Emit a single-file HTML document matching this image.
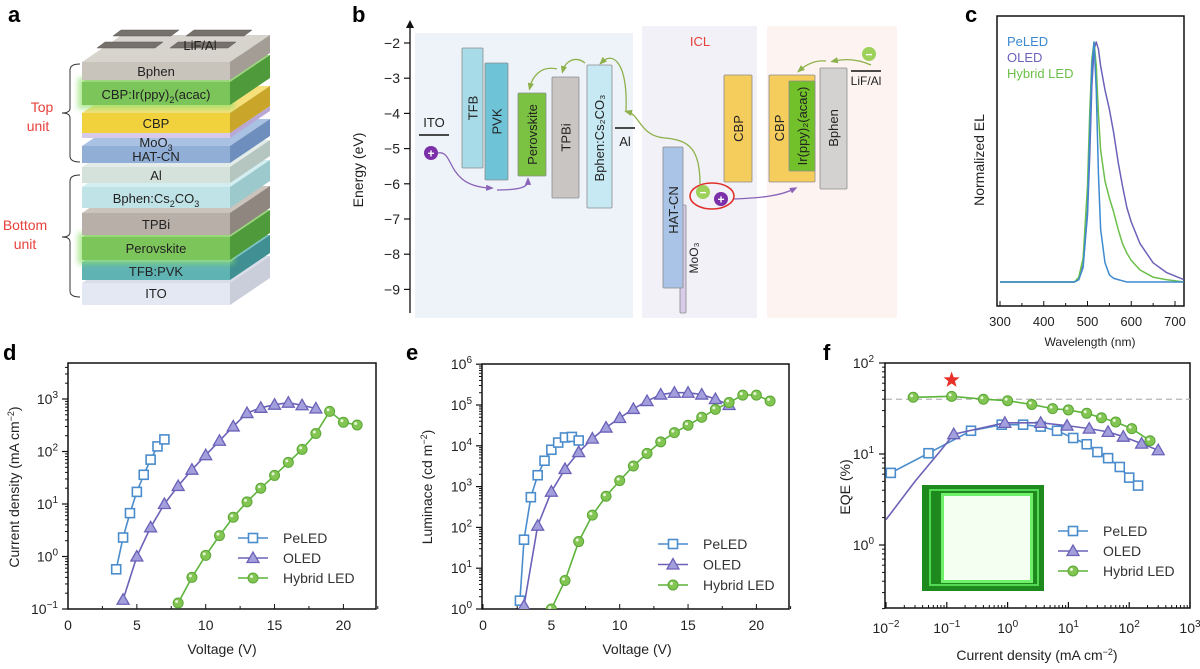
<!DOCTYPE html>
<html><head><meta charset="utf-8">
<style>
html,body{margin:0;padding:0;background:#fff;}
svg{display:block;font-family:"Liberation Sans",Arial,sans-serif;}
</style></head>
<body>
<svg id="fig" width="1200" height="669" viewBox="0 0 1200 669" xmlns="http://www.w3.org/2000/svg">
<defs>
<filter id="glow" x="-20%" y="-60%" width="140%" height="220%"><feGaussianBlur stdDeviation="3"/></filter>
<marker id="ag" viewBox="0 0 10 10" refX="5" refY="5" markerWidth="6" markerHeight="6" orient="auto"><path d="M0,1 L10,5 L0,9 z" fill="#8db04a"/></marker>
<marker id="ap" viewBox="0 0 10 10" refX="5" refY="5" markerWidth="6" markerHeight="6" orient="auto"><path d="M0,1 L10,5 L0,9 z" fill="#8a62b8"/></marker>
<clipPath id="clipD"><rect x="68" y="363" width="308" height="246"/></clipPath>
<clipPath id="clipE"><rect x="482" y="364" width="307" height="245"/></clipPath>
<clipPath id="clipF"><rect x="885" y="363" width="305" height="245"/></clipPath>
<clipPath id="clipC"><rect x="997" y="16" width="187" height="290"/></clipPath>
</defs>

<g>
<text x="8" y="22" font-size="22" font-weight="bold">a</text>
<g id="stack"></g>
<text x="42" y="112" font-size="14" fill="#e8403a" text-anchor="middle">Top</text>
<text x="38" y="131" font-size="14" fill="#e8403a" text-anchor="middle">unit</text>
<text x="25" y="230" font-size="14" fill="#e8403a" text-anchor="middle">Bottom</text>
<text x="25" y="249" font-size="14" fill="#e8403a" text-anchor="middle">unit</text>
<path d="M80,64 Q70,64 70,70 L70,108 Q70,113 62,113 Q70,113 70,118 L70,156 Q70,162 80,162" fill="none" stroke="#333" stroke-width="1"/>
<path d="M80,175 Q70,175 70,181 L70,232 Q70,237 62,237 Q70,237 70,242 L70,291 Q70,297 80,297" fill="none" stroke="#333" stroke-width="1"/>
</g>

<g>
<text x="352" y="22" font-size="22" font-weight="bold">b</text>
<rect x="415" y="33" width="218" height="285" fill="#eef3f9"/>
<rect x="642" y="26" width="115" height="292" fill="#f1f1f7"/>
<rect x="767" y="26" width="130" height="292" fill="#fdf4f2"/>
<text x="700" y="46" font-size="13" fill="#e8403a" text-anchor="middle">ICL</text>
<g id="energyAxis"></g>
<g id="bands"></g>
</g>

<g>
<text x="965" y="22" font-size="22" font-weight="bold">c</text>
<g id="plotC"></g>
</g>

<g>
<text x="3" y="360" font-size="22" font-weight="bold">d</text>
<g id="plotD"></g>
</g>
<g>
<text x="406" y="360" font-size="22" font-weight="bold">e</text>
<g id="plotE"></g>
</g>
<g>
<text x="823" y="360" font-size="22" font-weight="bold">f</text>
<g id="plotF"></g>
</g>
</svg>

<script>
// ---------- Panel c data (normalized EL) ----------
const cWave = [300,400,470,480,490,500,505,510,515,520,525,530,540,550,560,570,580,590,600,620,650,680,720];
const cPe   = [0,0,0,0.01,0.06,0.3,0.6,0.9,1.0,0.8,0.45,0.22,0.08,0.03,0.015,0.01,0.005,0,0,0,0,0,0];
const cOled = [0,0,0,0.01,0.07,0.28,0.52,0.82,0.97,1.0,0.97,0.9,0.8,0.72,0.62,0.5,0.4,0.31,0.25,0.16,0.08,0.04,0.01];
const cHyb  = [0,0,0,0.02,0.1,0.4,0.7,0.93,1.0,0.9,0.7,0.55,0.42,0.35,0.29,0.22,0.16,0.12,0.09,0.05,0.02,0.01,0];
const cTicks = [300,400,500,600,700];

// ---------- Panel d data (J-V) ----------
const dPeV = [3.5,4,4.5,5,5.5,6,6.5,7];
const dPeJ = [0.57,2.3,6.7,17,36,70,125,170];
const dOlV = [4,5,6,7,8,9,10,11,12,13,14,15,16,17,18];
const dOlJ = [0.15,1.0,3.6,10,22,45,85,160,300,540,680,780,850,760,660];
const dHyV = [8,9,10,11,12,13,14,15,16,17,18,19,20,21];
const dHyJ = [0.13,0.4,1.05,2.5,5.6,11,20,35,62,110,220,580,360,320];
const dXTicks = [0,5,10,15,20];
const dYExp = [-1,0,1,2,3];

// ---------- Panel e data (L-V) ----------
const ePeV = [2.7,3,3.5,4,4.5,5,5.5,6,6.5,7];
const ePeL = [1.6,50,550,1900,4300,8000,12000,16000,16500,13500];
const eOlV = [3,4,5,6,7,8,9,10,11,12,13,14,15,16,17,18];
const eOlL = [1.2,110,750,2700,7000,15000,28000,48000,80000,125000,180000,200000,200000,180000,140000,100000];
const eHyV = [5,6,7,8,9,10,11,12,13,14,15,16,17,18,19,20,21];
const eHyL = [1,5,45,200,580,1400,3200,6500,12500,21000,32000,50000,78000,115000,175000,175000,125000];
const eXTicks = [0,5,10,15,20];
const eYExp = [0,1,2,3,4,5,6];

// ---------- Panel f data (EQE-J) ----------
const fPeJ = [0.012,0.05,0.25,0.8,1.8,3.5,6.5,12,20,30,45,70,100,140];
const fPeE = [6.2,10.2,18,21,21,20,18,15,12.8,10.5,9,7.2,5.5,4.5];
const fOlLineJ = [0.01,0.03,0.08];
const fOlLineE = [1.9,5,11];
const fOlJ = [0.13,0.9,3.5,9.5,22,45,80,160,300];
const fOlE = [16.5,22,22,20.5,19,17.5,15.5,13,11];
const fHyJ = [0.028,0.12,0.4,1,2.5,5.5,10,20,35,60,110,220];
const fHyE = [42,43,40,38.5,35,31.5,30.5,28,25,22.5,19,14];
const fRef = 40;
const fStar = [0.12,65];
const fXExp = [-2,-1,0,1,2,3];
const fYExp = [0,1,2];

// ---------- Panel b axis ----------
const bLevelsE = [-2,-3,-4,-5,-6,-7,-8,-9];

const NS = "http://www.w3.org/2000/svg";
function mk(tag, attrs, parent){
  const e = document.createElementNS(NS, tag);
  for (const k in attrs) e.setAttribute(k, attrs[k]);
  parent.appendChild(e);
  return e;
}
function txt(parent, x, y, s, size, opts){
  const o = Object.assign({x:x, y:y, 'font-size':size, fill:'#222'}, opts||{});
  const t = mk('text', o, parent);
  t.textContent = s;
  return t;
}
function powLabel(parent, x, y, exp, anchor){
  const t = mk('text', {x:x, y:y, 'font-size':14, fill:'#222', 'text-anchor':anchor}, parent);
  const a = mk('tspan', {}, t); a.textContent = '10';
  const b = mk('tspan', {dy:-6, 'font-size':10}, t); b.textContent = (exp<0?'\u2212':'') + Math.abs(exp);
  return t;
}

const C_BLUE='#4a8ccc', C_PUR='#6b62b8', C_GRN='#5db43a';

function drawSeries(g, xs, ys, xf, yf, color, marker, name, clip, lineOnlyX, lineOnlyY){
  let pts = [];
  if (lineOnlyX) for (let i=0;i<lineOnlyX.length;i++) pts.push(xf(lineOnlyX[i])+','+yf(lineOnlyY[i]));
  for (let i=0;i<xs.length;i++) pts.push(xf(xs[i])+','+yf(ys[i]));
  const grp = mk('g', {'clip-path':'url(#'+clip+')'}, g);
  
  
  const pl = mk('polyline', {points:pts.join(' '), fill:'none', stroke:color, 'stroke-width':1.6}, grp);
  
  
  for (let i=0;i<xs.length;i++){
    const x = xf(xs[i]), y = yf(ys[i]);
    const m = drawMarker(grp, x, y, marker);
    
    
  }
}
function drawMarker(g, x, y, marker){
  if (marker==='sq') return mk('rect', {x:x-4.5, y:y-4.5, width:9, height:9, fill:'#fff', stroke:C_BLUE, 'stroke-width':1.6}, g);
  if (marker==='tri') return mk('polygon', {points:(x)+','+(y-6)+' '+(x-6)+','+(y+4.5)+' '+(x+6)+','+(y+4.5), fill:'#a39fdc', stroke:C_PUR, 'stroke-width':1.3}, g);
  const c = mk('g', {}, g);
  mk('circle', {cx:x, cy:y, r:5, fill:'#82c552', stroke:'#5aa636', 'stroke-width':1}, c);
  mk('circle', {cx:x-1.5, cy:y-1.5, r:1.5, fill:'#e6f5d8'}, c);
  return c;
}
function legend(g, x, y0, dy){
  const items = [['PeLED',C_BLUE,'sq'],['OLED',C_PUR,'tri'],['Hybrid LED',C_GRN,'ci']];
  items.forEach((it,i)=>{
    const y = y0 + i*dy;
    const lg = mk('g', {}, g);
    
    
    mk('line', {x1:x, y1:y, x2:x+30, y2:y, stroke:it[1], 'stroke-width':1.6}, lg);
    drawMarker(lg, x+15, y, it[2]);
    txt(lg, x+45, y+5, it[0], 14, {fill:'#333'});
  });
}
function box(g, x0, y0, x1, y1, name){
  const r = mk('rect', {x:x0, y:y0, width:x1-x0, height:y1-y0, fill:'none', stroke:'#111', 'stroke-width':1.5}, g);
  
  
}
function logMinor(g, yf, e0, e1, x0, len, ytop){
  for (let e=e0; e<e1; e++) for (let k=2;k<=9;k++){
    const y = yf(k*Math.pow(10,e));
    if (y < ytop) continue;
    mk('line', {x1:x0, y1:y, x2:x0-len, y2:y, stroke:'#111', 'stroke-width':1}, g);
  }
}

// ================= Panel a =================
(function(){
  const g = document.getElementById('stack');
  const X0=82, X1=230, DX=40, DY=27;
  const layers = [
    ['ITO',283,305,'#e4e8f2','#c9ceda','#d8dde9','ITO',298],
    ['TFB:PVK',262,280,'#5fb3b3','#3f8f93','#7cc4c4','TFB:PVK',276],
    ['Perovskite',237,260,'#7cc55a','#4f9a3a','#9bd77d','Perovskite',253],
    ['TPBi',213,235,'#b8afa8','#8f8680','#cbc4bd','TPBi',229],
    ['Bphen:Cs2CO3',187,208,'#bfe3e6','#9cc9cc','#d3eef0',null,203],
    ['Al',167,183,'#d5e2dc','#b5c5bf','#e3ece8','Al',180],
    ['HAT-CN',146,163,'#90aed6','#6e8fbd','#a9c1e3','HAT-CN',161],
    ['MoO3',133,138,'#d6c9ea','#b9a8d6','#e2d8f0',null,0],
    ['CBP',113,133,'#f1d23c','#c9a62a','#f6e07a','CBP',128],
    ['CBP:Ir(ppy)2(acac)',82,105,'#7cc55a','#4f9a3a','#9bd77d',null,99],
    ['Bphen',62,80,'#c8c3bb','#a39d96','#d7d3cd','Bphen',76]
  ];
  layers.forEach(L=>{
    const lg = mk('g', {}, g);
    
    
    const t=L[1], b=L[2];
    if (L[3]==='#7cc55a') mk('rect', {x:X0-4, y:t-4, width:X1-X0+8, height:b-t+8, fill:'#8ee06a', opacity:0.7, filter:'url(#glow)'}, lg);
    mk('polygon', {points:`${X0},${t} ${X0+DX},${t-DY} ${X1+DX},${t-DY} ${X1},${t}`, fill:L[5]}, lg);
    mk('polygon', {points:`${X1},${t} ${X1+DX},${t-DY} ${X1+DX},${b-DY} ${X1},${b}`, fill:L[4]}, lg);
    mk('rect', {x:X0, y:t, width:X1-X0, height:b-t, fill:L[3]}, lg);
    if (L[6]) txt(lg, 156, L[7], L[6], 13, {'text-anchor':'middle', fill:'#222'});
  });
  let t = mk('text',{x:156,y:99,'font-size':13,fill:'#222','text-anchor':'middle'},g);
  let s1=mk('tspan',{},t); s1.textContent='CBP:Ir(ppy)';
  let s2=mk('tspan',{dy:4,'font-size':9},t); s2.textContent='2';
  let s3=mk('tspan',{dy:-4},t); s3.textContent='(acac)';
   
  t = mk('text',{x:156,y:203,'font-size':13,fill:'#222','text-anchor':'middle'},g);
  s1=mk('tspan',{},t); s1.textContent='Bphen:Cs';
  s2=mk('tspan',{dy:4,'font-size':9},t); s2.textContent='2';
  s3=mk('tspan',{dy:-4},t); s3.textContent='CO';
  let s4=mk('tspan',{dy:4,'font-size':9},t); s4.textContent='3';
   
  t = mk('text',{x:156,y:147,'font-size':13,fill:'#222','text-anchor':'middle'},g);
  s1=mk('tspan',{},t); s1.textContent='MoO';
  s2=mk('tspan',{dy:4,'font-size':9},t); s2.textContent='3';
   
  const el = [[97,48],[170,48],[113,36],[186,36]];
  el.forEach((p,i)=>{
    const e = mk('polygon', {points:`${p[0]},${p[1]} ${p[0]+8},${p[1]-6} ${p[0]+74-8},${p[1]-6} ${p[0]+58},${p[1]}`, fill:'#77716c', stroke:'#5e5954','stroke-width':0.5}, g);
     
  });
  t = txt(g, 200, 50, 'LiF/Al', 13, {'text-anchor':'middle'});
   
})();

// ================= Panel b =================
(function(){
  const g = document.getElementById('energyAxis');
  const yE = v => 43 + (-2 - v)*35.2;
  mk('line',{x1:410,y1:313,x2:410,y2:26,stroke:'#111','stroke-width':1.3},g);
  mk('path',{d:'M406,28 L410,20 L414,28 z',fill:'#111'},g);
  bLevelsE.forEach(v=>{
    const y=yE(v);
    mk('line',{x1:410,y1:y,x2:404,y2:y,stroke:'#111','stroke-width':1.2},g);
    const t = txt(g, 400, y+5, '\u2212'+Math.abs(v), 14, {'text-anchor':'end'});
     
  });
  const yl = txt(g, 0, 0, 'Energy (eV)', 14, {'text-anchor':'middle', transform:'translate(363,170) rotate(-90)'});
   

  const b = document.getElementById('bands');
  const bars = [
    ['TFB',462,483,48,168,'#a8dbe8','TFB'],
    ['PVK',485,508,63,180,'#6ec3d6','PVK'],
    ['Perovskite',518,546,93,176,'#7cc242','Perovskite'],
    ['TPBi',552,579,77,198,'#c9c5c2','TPBi'],
    ['Bphen-Cs2CO3',587,612,65,208,'#c7e9f3',null],
    ['MoO3',680,686,205,313,'#d8cce8',null],
    ['HAT-CN',663,683,147,288,'#a9c4e6','HAT-CN'],
    ['CBP-icl',724,752,75,182,'#f5cd5c','CBP'],
    ['CBP-top',769,815,75,182,'#f5cd5c',null],
    ['Ir-ppy',789,815,81,171,'#72c12a',null],
    ['Bphen-top',820,847,68,189,'#d4d2d0',null]
  ];
  bars.forEach(B=>{
    const r = mk('rect',{x:B[1],y:B[3],width:B[2]-B[1],height:B[4]-B[3],fill:B[5],stroke:'#8c8c8c','stroke-width':0.8,rx:1},b);
    
    
    if (B[6]){
      const cx=(B[1]+B[2])/2, cy=B[0]==='HAT-CN'?210:(B[3]+B[4])/2;
      txt(b,0,0,B[6],13,{'text-anchor':'middle',transform:`translate(${cx+5},${cy}) rotate(-90)`});
    }
  });
  txt(b,0,0,'Bphen:Cs\u2082CO\u2083',13,{'text-anchor':'middle',transform:'translate(604,138) rotate(-90)'});
  txt(b,0,0,'CBP',13,{'text-anchor':'middle',transform:'translate(784,128) rotate(-90)'});
  txt(b,0,0,'Ir(ppy)\u2082(acac)',13,{'text-anchor':'middle',transform:'translate(807,126) rotate(-90)'});
  txt(b,0,0,'Bphen',13,{'text-anchor':'middle',transform:'translate(838,128) rotate(-90)'});
  txt(b,0,0,'MoO\u2083',12,{'text-anchor':'middle',transform:'translate(698,258) rotate(-90)'});
  mk('line',{x1:419,y1:135,x2:449,y2:135,stroke:'#111','stroke-width':1.5},b);
  txt(b,434,127,'ITO',13,{'text-anchor':'middle'});
  mk('line',{x1:615,y1:128,x2:635,y2:128,stroke:'#111','stroke-width':1.5},b);
  txt(b,625,146,'Al',13,{'text-anchor':'middle'});
  mk('line',{x1:851,y1:71,x2:881,y2:71,stroke:'#111','stroke-width':1.5},b);
  txt(b,866,85,'LiF/Al',12,{'text-anchor':'middle'});
  mk('path',{d:'M438,153 C455,150 445,186 490,188',fill:'none',stroke:'#8a62b8','stroke-width':1.3,'marker-end':'url(#ap)'},b);
  mk('path',{d:'M497,190 C520,190 528,187 528,181',fill:'none',stroke:'#8a62b8','stroke-width':1.3,'marker-end':'url(#ap)'},b);
  mk('path',{d:'M734,199 C760,198 780,196 794,189',fill:'none',stroke:'#8a62b8','stroke-width':1.3,'marker-end':'url(#ap)'},b);
  mk('path',{d:'M700,184 C700,150 690,140 665,138 C640,136 640,115 628,112',fill:'none',stroke:'#8db04a','stroke-width':1.3,'marker-end':'url(#ag)'},b);
  mk('path',{d:'M626,112 C628,60 612,52 602,62',fill:'none',stroke:'#8db04a','stroke-width':1.3,'marker-end':'url(#ag)'},b);
  mk('path',{d:'M585,63 C575,55 565,62 563,70',fill:'none',stroke:'#8db04a','stroke-width':1.3,'marker-end':'url(#ag)'},b);
  mk('path',{d:'M557,69 C540,65 532,78 530,87',fill:'none',stroke:'#8db04a','stroke-width':1.3,'marker-end':'url(#ag)'},b);
  mk('path',{d:'M871,65 C860,60 848,58 834,61',fill:'none',stroke:'#8db04a','stroke-width':1.3,'marker-end':'url(#ag)'},b);
  mk('path',{d:'M826,61 C815,60 807,64 800,70',fill:'none',stroke:'#8db04a','stroke-width':1.3,'marker-end':'url(#ag)'},b);
  const ell = mk('ellipse',{cx:712,cy:196,rx:22,ry:13,fill:'none',stroke:'#e0302a','stroke-width':1.6},b);
   
  [[431,153,'#7b2fa8','+'],[703,192,'#9dd15a','\u2212'],[721,199,'#7b2fa8','+'],[869,54,'#9dd15a','\u2212']].forEach(c=>{
    const cg = mk('g',{},b);
    
    
    mk('circle',{cx:c[0],cy:c[1],r:7,fill:c[2]},cg);
    txt(cg,c[0],c[1]+4.5,c[3],12,{'text-anchor':'middle',fill:'#fff','font-weight':'bold'});
  });
})();

// ================= Panel c =================
(function(){
  const g = document.getElementById('plotC');
  const xC = w => 1000 + (w-300)*0.4375;
  const yC = v => 282 - v*240;
  box(g, 997, 16, 1184, 306, 'plot-c-frame');
  cTicks.forEach(w=>{
    const x=xC(w);
    mk('line',{x1:x,y1:306,x2:x,y2:301,stroke:'#111'},g);
    if (x+21.9 < 1184) mk('line',{x1:x+21.9,y1:306,x2:x+21.9,y2:303,stroke:'#111'},g);
    const t = txt(g,x,326,String(w),13,{'text-anchor':'middle'});
     
  });
  let t = txt(g,1090,346,'Wavelength (nm)',12,{'text-anchor':'middle'});
   
  t = txt(g,0,0,'Normalized EL',14,{'text-anchor':'middle',transform:'translate(984,160) rotate(-90)'});
   
  const cg = mk('g',{'clip-path':'url(#clipC)'},g);
  [[cOled,'#6b62b8','oled-spectrum'],[cHyb,'#6cbf4a','hybrid-spectrum'],[cPe,'#3d8ad0','peled-spectrum']].forEach(s=>{
    const pts = cWave.map((w,i)=>xC(w)+','+yC(s[0][i])).join(' ');
    const p = mk('polyline',{points:pts,fill:'none',stroke:s[1],'stroke-width':1.5,'stroke-linejoin':'round'},cg);
    
    
  });
  [['PeLED','#3d8ad0',46],['OLED','#6b62b8',62],['Hybrid LED','#6cbf4a',78]].forEach(l=>{
    const lt = txt(g,1007,l[2],l[0],13,{fill:l[1]});
    
    
  });
})();

// ================= Panel d =================
(function(){
  const g = document.getElementById('plotD');
  const xD = v => 68 + v*13.77;
  const yD = j => 609 - (Math.log10(j)+1)*52.5;
  box(g, 68, 363, 376, 609, 'plot-d-frame');
  logMinor(g, yD, -1, 4, 68, 3, 363);
  dYExp.forEach(e=>{
    const y=yD(Math.pow(10,e));
    mk('line',{x1:68,y1:y,x2:62,y2:y,stroke:'#111','stroke-width':1.2},g);
    const t = powLabel(g,58,y+5,e,'end');
     
  });
  dXTicks.forEach(v=>{
    const x=xD(v);
    mk('line',{x1:x,y1:609,x2:x,y2:604,stroke:'#111'},g);
    mk('line',{x1:x+34.4,y1:609,x2:x+34.4,y2:606,stroke:'#111'},g);
    const t = txt(g,x,630,String(v),14,{'text-anchor':'middle'});
     
  });
  let t = txt(g,222,654,'Voltage (V)',14,{'text-anchor':'middle'});
   
  t = mk('text',{'font-size':14,fill:'#222','text-anchor':'middle',transform:'translate(19,487) rotate(-90)'},g);
  let a=mk('tspan',{},t); a.textContent='Current density (mA cm';
  let b=mk('tspan',{dy:-5,'font-size':9},t); b.textContent='\u22122';
  let c=mk('tspan',{dy:5},t); c.textContent=')';
   
  drawSeries(g, dPeV, dPeJ, xD, yD, C_BLUE, 'sq', 'd-peled', 'clipD');
  drawSeries(g, dOlV, dOlJ, xD, yD, C_PUR, 'tri', 'd-oled', 'clipD');
  drawSeries(g, dHyV, dHyJ, xD, yD, C_GRN, 'ci', 'd-hybrid', 'clipD');
  legend(g, 238, 538, 20);
})();

// ================= Panel e =================
(function(){
  const g = document.getElementById('plotE');
  const xE = v => 483 + v*13.67;
  const yE = l => 609 - Math.log10(l)*40.8;
  box(g, 482, 364, 789, 609, 'plot-e-frame');
  logMinor(g, yE, 0, 6, 482, 3, 364);
  eYExp.forEach(e=>{
    const y=yE(Math.pow(10,e));
    mk('line',{x1:482,y1:y,x2:476,y2:y,stroke:'#111','stroke-width':1.2},g);
    const t = powLabel(g,472,y+5,e,'end');
     
  });
  eXTicks.forEach(v=>{
    const x=xE(v);
    mk('line',{x1:x,y1:609,x2:x,y2:604,stroke:'#111'},g);
    mk('line',{x1:x+34.2,y1:609,x2:x+34.2,y2:606,stroke:'#111'},g);
    const t = txt(g,x,630,String(v),14,{'text-anchor':'middle'});
     
  });
  let t = txt(g,637,654,'Voltage (V)',14,{'text-anchor':'middle'});
   
  t = mk('text',{'font-size':14,fill:'#222','text-anchor':'middle',transform:'translate(432,487) rotate(-90)'},g);
  let a=mk('tspan',{},t); a.textContent='Luminace (cd m';
  let b=mk('tspan',{dy:-5,'font-size':9},t); b.textContent='\u22122';
  let c=mk('tspan',{dy:5},t); c.textContent=')';
   
  drawSeries(g, ePeV, ePeL, xE, yE, C_BLUE, 'sq', 'e-peled', 'clipE');
  drawSeries(g, eOlV, eOlL, xE, yE, C_PUR, 'tri', 'e-oled', 'clipE');
  drawSeries(g, eHyV, eHyL, xE, yE, C_GRN, 'ci', 'e-hybrid', 'clipE');
  legend(g, 658, 544, 20.5);
})();

// ================= Panel f =================
(function(){
  const g = document.getElementById('plotF');
  const xF = c => 886 + (Math.log10(c)+2)*60.8;
  const yF = e => 545 - Math.log10(e)*91;
  box(g, 885, 363, 1190, 608, 'plot-f-frame');
  logMinor(g, yF, -1, 2, 885, 3, 363);
  fYExp.forEach(e=>{
    const y=yF(Math.pow(10,e));
    mk('line',{x1:885,y1:y,x2:879,y2:y,stroke:'#111','stroke-width':1.2},g);
    const t = powLabel(g,874,y+5,e,'end');
     
  });
  for (let e=-2;e<3;e++) for (let k=2;k<=9;k++){
    const x=xF(k*Math.pow(10,e));
    mk('line',{x1:x,y1:608,x2:x,y2:605,stroke:'#111'},g);
  }
  fXExp.forEach(e=>{
    const x=xF(Math.pow(10,e));
    mk('line',{x1:x,y1:608,x2:x,y2:602,stroke:'#111','stroke-width':1.2},g);
    const t = powLabel(g,x,633,e,'middle');
     
  });
  let t = mk('text',{x:1037,y:660,'font-size':14,fill:'#222','text-anchor':'middle'},g);
  let a=mk('tspan',{},t); a.textContent='Current density (mA cm';
  let b=mk('tspan',{dy:-5,'font-size':9},t); b.textContent='\u22122';
  let c=mk('tspan',{dy:5},t); c.textContent=')';
   
  t = txt(g,0,0,'EQE (%)',14,{'text-anchor':'middle',transform:'translate(850,487) rotate(-90)'});
   
  const ref = mk('line',{x1:886,y1:yF(fRef),x2:1190,y2:yF(fRef),stroke:'#b5b5b5','stroke-width':1.2,'stroke-dasharray':'6,4'},g);
   
  const ig = mk('g',{},g);
   
  mk('rect',{x:922,y:485,width:122,height:106,fill:'#1e8a1e'},ig);
  mk('rect',{x:930,y:490,width:108,height:95,fill:'none',stroke:'#52d852','stroke-width':2},ig);
  mk('rect',{x:941,y:493,width:92,height:90,fill:'#6ff06a'},ig);
  mk('rect',{x:944,y:496,width:86,height:84,fill:'#f4fff2'},ig);
  drawSeries(g, fPeJ, fPeE, xF, yF, C_BLUE, 'sq', 'f-peled', 'clipF');
  drawSeries(g, fOlJ, fOlE, xF, yF, C_PUR, 'tri', 'f-oled', 'clipF', fOlLineJ, fOlLineE);
  drawSeries(g, fHyJ, fHyE, xF, yF, C_GRN, 'ci', 'f-hybrid', 'clipF');
  const sx=xF(fStar[0]), sy=yF(fStar[1]);
  let sp=[]; for(let i=0;i<10;i++){const r=i%2?3.5:8.5, an=-Math.PI/2+i*Math.PI/5; sp.push((sx+r*Math.cos(an)).toFixed(1)+','+(sy+r*Math.sin(an)).toFixed(1));}
  const st = mk('polygon',{points:sp.join(' '),fill:'#e8302a'},g);
   
  legend(g, 1058, 531, 20);
})();
</script>
</body></html>
